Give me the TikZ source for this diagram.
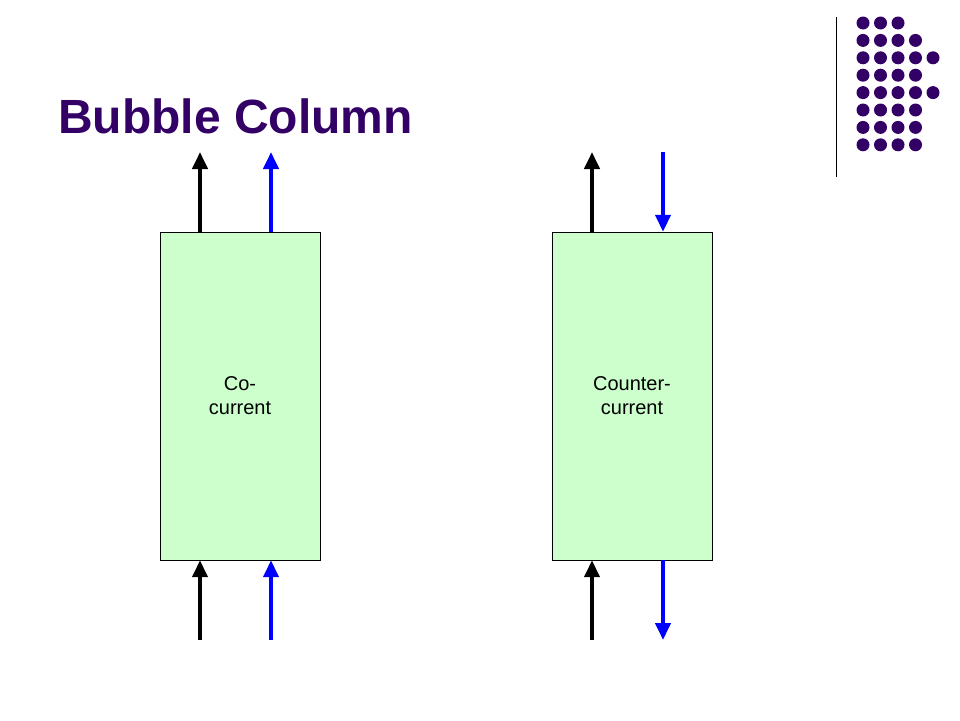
\documentclass[tikz,border=0pt]{standalone}
\usepackage{fontspec}
\setmainfont{Liberation Sans}
\usetikzlibrary{arrows.meta}
\definecolor{pur}{HTML}{330066}
\definecolor{teal2}{HTML}{669999}
\definecolor{yel}{HTML}{CCCC00}
\definecolor{lav}{HTML}{D6D6EA}
\definecolor{grn}{HTML}{CCFFCC}
\tikzset{col/.style={draw=black,fill=grn,minimum width=160pt,minimum height=328pt,inner sep=0pt,align=center,font=\fontsize{20pt}{24pt}\selectfont},
flow/.style={line width=4pt,-{Triangle[length=17pt,width=15pt]}}}
\begin{document}
\begin{tikzpicture}[x=1pt,y=-1pt]
\useasboundingbox (0,0) rectangle (960,720);
\node[anchor=base west,text=pur,font=\bfseries\fontsize{48pt}{56pt}\selectfont,inner sep=0pt] (title) at (58,133) {Bubble Column};
\draw[line width=1pt] (836,17) -- (836,177);
\foreach \r/\list in {0/{P,P,P},1/{P,P,P,T},2/{P,P,T,T,Y},3/{P,T,T,Y},4/{T,T,Y,Y,L},5/{T,Y,Y,L},6/{Y,Y,L,L},7/{N,L,N,L}}{
 \foreach \c [count=\i from 0] in \list {
  \ifx\c N\else
  \def\cc{pur}\ifx\c T\def\cc{teal2}\fi\ifx\c Y\def\cc{yel}\fi\ifx\c L\def\cc{lav}\fi
  \fill[\cc] (863+17.5*\i,23+17.4*\r) circle (6.5);
  \fi}}
\node[col] (A) at (240,396) {Co-\\current};
\node[col] (B) at (632,396) {Counter-\\current};
\coordinate (a1) at (200,152); \coordinate (a2) at (271,152);
\coordinate (a3) at (200,640); \coordinate (a4) at (271,640);
\coordinate (b1) at (592,152); \coordinate (b2) at (663,152);
\coordinate (b3) at (592,640); \coordinate (b4) at (663,640);
\draw[flow] (a1 |- A.north) -- (a1);
\draw[flow,blue] (a2 |- A.north) -- (a2);
\draw[flow] (a3) -- (a3 |- A.south);
\draw[flow,blue] (a4) -- (a4 |- A.south);
\draw[flow] (b1 |- B.north) -- (b1);
\draw[flow,blue] (b2) -- (b2 |- B.north);
\draw[flow] (b3) -- (b3 |- B.south);
\draw[flow,blue] (b4 |- B.south) -- (b4);
\end{tikzpicture}
\end{document}
